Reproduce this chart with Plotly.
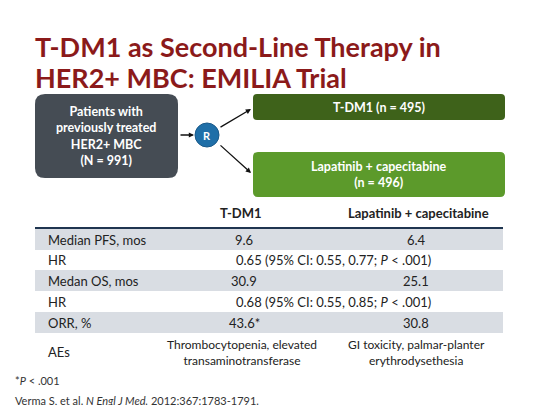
import plotly.graph_objects as go

row_labels = ["Median PFS, mos", "HR", "Medan OS, mos", "HR", "ORR, %", "AEs"]
tdm1_vals = ["9.6", None, "30.9", None, "43.6*", "Thrombocytopenia, elevated<br>transaminotransferase"]
lapcap_vals = ["6.4", None, "25.1", None, "30.8", "GI toxicity, palmar-planter<br>erythrodysethesia"]
hr_vals = [None, "0.65 (95% CI: 0.55, 0.77; <i>P</i> < .001)", None,
           "0.68 (95% CI: 0.55, 0.85; <i>P</i> < .001)", None, None]
arms = ["T-DM1 (n = 495)", "Lapatinib + capecitabine<br>(n = 496)"]
col_headers = ["T-DM1", "Lapatinib + capecitabine"]

F = "Lato"
fig = go.Figure()
shapes = []
ann = []

def A(x, y, t, size=11, color="#222", bold=False, xanchor="center", font=F):
    if bold:
        t = "<b>" + t + "</b>"
    ann.append(dict(x=x, y=y, xref="x", yref="y", text=t, showarrow=False,
                    xanchor=xanchor, yanchor="middle", align="center",
                    font=dict(family=font, size=size, color=color)))

# title
A(25, 38, "T-DM1 as Second-Line Therapy in", 27, "#8b1a1a", True, "left")
A(25, 69, "HER2+ MBC: EMILIA Trial", 27, "#8b1a1a", True, "left")

def rrect(x0, y0, x1, y1, r, color):
    p = (f"M{x0+r},{y0} L{x1-r},{y0} Q{x1},{y0} {x1},{y0+r} L{x1},{y1-r} Q{x1},{y1} {x1-r},{y1} "
         f"L{x0+r},{y1} Q{x0},{y1} {x0},{y1-r} L{x0},{y0+r} Q{x0},{y0} {x0+r},{y0} Z")
    shapes.append(dict(type="path", path=p, xref="x", yref="y", fillcolor=color, line=dict(width=0)))

rrect(27, 86, 170, 170, 10, "#454c54")
A(98, 128, "Patients with<br>previously treated<br>HER2+ MBC<br>(N = 991)", 12.5, "white", True)
rrect(245, 86, 497, 112, 4, "#3e621a")
A(371, 99, arms[0], 12.5, "white", True)
rrect(245, 144, 497, 189, 5, "#5c9a2b")
A(371, 166, arms[1], 12.5, "white", True)
shapes.append(dict(type="circle", xref="x", yref="y", x0=187, y0=115, x1=211, y1=139,
                   fillcolor="#1f6fa8", line=dict(color="#1a5a8a", width=1)))
A(199, 127, "R", 11, "white", True)
for (ax, ay, x, y) in [(171, 127, 186, 127), (211, 120, 243, 101), (211, 136, 243, 165)]:
    ann.append(dict(x=x, y=y, ax=ax, ay=ay, xref="x", yref="y", axref="x", ayref="y",
                    text="", showarrow=True, arrowhead=2, arrowsize=0.8, arrowwidth=1.3, arrowcolor="#111"))

# table
A(233, 205, col_headers[0], 13, "#222", True)
A(410, 205, col_headers[1], 13, "#222", True)
shapes.append(dict(type="line", xref="x", yref="y", x0=27, x1=495, y0=220, y1=220,
                   line=dict(color="#1f3550", width=2)))
tops = [221, 241.5, 262, 283, 304, 326]
h = 21
for i, lab in enumerate(row_labels):
    y0 = tops[i]
    if i in (0, 2, 4):
        shapes.append(dict(type="rect", xref="x", yref="y", x0=27, x1=495, y0=y0, y1=y0 + h,
                           fillcolor="#d9dde3", line=dict(width=0), layer="below"))
    yc = y0 + h / 2 if i < 5 else 344
    A(38, yc, lab, 13, "#222", False, "left")
    if tdm1_vals[i]:
        A(236 if i < 5 else 234, yc, tdm1_vals[i], 13 if i < 5 else 12, "#222")
    if lapcap_vals[i]:
        A(408, yc, lapcap_vals[i], 13 if i < 5 else 12, "#222")
    if hr_vals[i]:
        A(325, yc, hr_vals[i], 13, "#222")

A(5, 372, "*<i>P</i> < .001", 11, "#333", False, "left")
A(5, 392, "Verma S, et al. <i>N Engl J Med.</i> 2012;367:1783-1791.", 11, "#333", False, "left")

fig.update_layout(width=540, height=405, margin=dict(l=0, r=0, t=0, b=0),
                  plot_bgcolor="white", paper_bgcolor="white", shapes=shapes, annotations=ann,
                  showlegend=False)
fig.update_xaxes(range=[0, 540], visible=False, fixedrange=True)
fig.update_yaxes(range=[405, 0], visible=False, fixedrange=True)
fig.write_html("out.html")
